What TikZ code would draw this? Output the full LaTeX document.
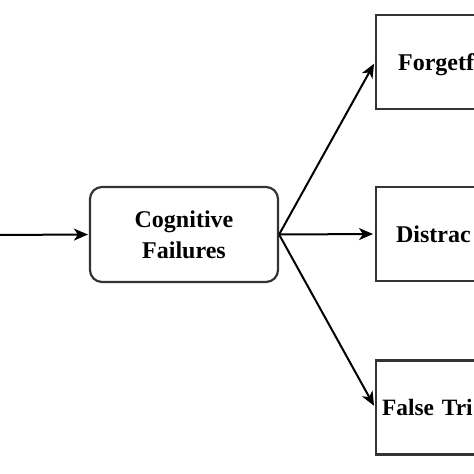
\documentclass[tikz,border=0pt]{standalone}
\usepackage{fontspec}
\setmainfont{Liberation Serif}
\usetikzlibrary{arrows.meta}
\begin{document}
\begin{tikzpicture}[x=1pt,y=-1pt,
  boxline/.style={draw=black!80, line width=2.2pt},
  label/.style={font=\fontsize{24}{31}\selectfont\bfseries},
  outbox/.style={boxline, label, rectangle, anchor=west, minimum height=94pt,
    minimum width=100pt, text width=200pt, align=left, text height=16pt, text depth=0pt},
  conn/.style={line width=2pt, -{Stealth[length=14pt,width=12pt,inset=4pt]}}]
\useasboundingbox (0,0) rectangle (474,474);
\clip (0,0) rectangle (474,474);
\fill[white] (0,0) rectangle (474,474);
\node[boxline, label, rectangle, rounded corners=12pt, minimum width=188pt, minimum height=95pt,
  align=center, inner sep=0pt] (cog) at (184,234.5) {Cognitive\\Failures};
\node[outbox, inner xsep=22pt] (forg) at (375,62) {Forgetf};
\node[outbox, inner xsep=20pt] (dist) at (375,234) {Distrac};
\node[outbox, inner xsep=6pt, font=\fontsize{23.4}{31}\selectfont\bfseries] (fals) at (375,407.5) {False Tri};
\coordinate (src) at (-5,235);
\draw[conn, shorten >=1pt] (src) -- (cog.west);
\draw[conn, shorten >=2pt] (cog.east) -- (forg.west);
\draw[conn, shorten >=2pt] (cog.east) -- (dist.west);
\draw[conn, shorten >=2pt] (cog.east) -- (fals.west);
\end{tikzpicture}
\end{document}
